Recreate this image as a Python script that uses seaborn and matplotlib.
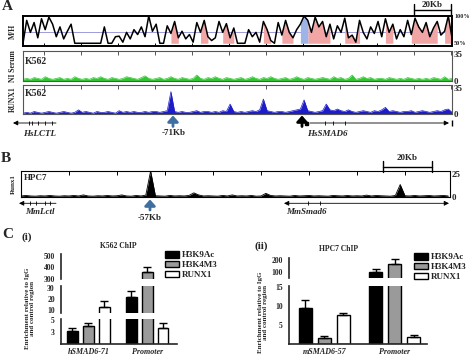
import numpy as np
import pandas as pd
import matplotlib
matplotlib.use("Agg")
import matplotlib.pyplot as plt
from matplotlib.patches import Rectangle
import seaborn as sns

W, H = 474, 356

# ---------------- data ----------------
step_kb = 2  # spacing of track values, kb

# A: mouse/human VISTA identity (%)
mh_ident = [50, 92, 70, 88, 60, 95, 75, 98, 85, 62,
            80, 58, 72, 85, 50, 50, 50, 50, 50, 50,
            50, 50, 80, 50, 50, 62, 63, 52, 70, 58,
            75, 66, 80, 62, 100, 72, 85, 50, 50, 82,
            68, 90, 60, 72, 58, 66, 52, 88, 70, 92,
            62, 55, 60, 90, 70, 86, 60, 78, 50, 50,
            50, 75, 62, 70, 52, 90, 75, 55, 50, 88,
            65, 92, 70, 60, 75, 85, 100, 92, 70, 98,
            80, 90, 62, 85, 58, 82, 70, 96, 60, 65,
            52, 92, 70, 58, 80, 68, 90, 62, 95, 70,
            85, 58, 75, 62, 92, 66, 96, 80, 70, 88,
            62, 78, 90, 65, 72, 100, 60]
pink_cns = [(80, 84), (96, 100), (108, 114), (130, 134), (140, 146),
            (154, 166), (174, 182), (196, 200), (210, 224), (228, 232)]
blue_exon = [(150, 154)]

# A: K562 ChIP-seq tracks (0-35)
ni_serum = [2, 3, 2, 4, 3, 2, 5, 3, 2, 3,
            4, 2, 3, 2, 5, 3, 2, 3, 2, 4,
            3, 5, 3, 2, 4, 3, 2, 3, 5, 4,
            3, 2, 4, 6, 3, 2, 3, 4, 2, 3,
            5, 3, 2, 4, 3, 2, 3, 7, 3, 2,
            4, 3, 5, 3, 2, 4, 3, 2, 3, 4,
            2, 3, 5, 3, 2, 4, 3, 5, 3, 2,
            3, 4, 2, 3, 5, 3, 2, 4, 3, 2,
            3, 4, 3, 2, 5, 3, 4, 2, 3, 7,
            2, 3, 5, 3, 4, 2, 3, 3, 2, 4,
            3, 2, 3, 2, 4, 3, 2, 3, 2, 3,
            2, 4, 3, 2, 5, 2, 3]
runx1_k562 = [1, 2, 1, 3, 2, 1, 2, 3, 2, 1,
              2, 3, 2, 1, 2, 5, 2, 3, 2, 1,
              3, 2, 2, 3, 2, 1, 4, 2, 3, 2,
              3, 2, 2, 3, 2, 3, 3, 2, 3, 4,
              27, 3, 2, 3, 2, 2, 3, 4, 2, 3,
              3, 2, 3, 2, 4, 3, 12, 3, 2, 3,
              2, 3, 4, 3, 5, 18, 4, 3, 2, 3,
              3, 2, 3, 4, 5, 6, 17, 4, 3, 2,
              3, 4, 12, 5, 4, 6, 4, 3, 5, 3,
              2, 3, 4, 3, 2, 4, 3, 5, 8, 3,
              4, 3, 2, 3, 3, 4, 2, 3, 4, 3,
              2, 3, 4, 3, 5, 6, 2]

# B: HPC7 Runx1 track (0-25)
runx1_hpc7 = [1, 1.5, 1, 0.8, 1.2, 1, 1.5, 1, 0.8, 1.2,
              1, 1.5, 1, 2, 1, 0.8, 1.2, 1, 1.5, 1,
              1.2, 2, 1, 0.8, 1.5, 1, 1.8, 25, 1.2, 1,
              0.8, 1.5, 1, 1.2, 1, 1.5, 4, 2, 1, 1.2,
              1, 0.8, 1.5, 1, 2, 1, 1.2, 1, 1.5, 0.8,
              1, 3.5, 1.5, 1, 1.2, 1, 0.8, 1.5, 1, 1.2,
              1.5, 1, 1.2, 1, 0.8, 1.5, 1.2, 1, 1.5, 1,
              1.2, 1, 1.8, 1, 1.5, 1.2, 1, 0.8, 1.5, 12,
              1.2, 1, 1.5, 1, 1.2, 1.5, 1, 1.2, 1.5, 1]

# C: ChIP-qPCR enrichment
marks = ["H3K9Ac", "H3K4M3", "RUNX1"]
regions_k562 = ["hSMAD6-71", "Promoter"]
regions_hpc7 = ["mSMAD6-57", "Promoter"]
k562_mean = {"H3K9Ac": [3.2, 22.0], "H3K4M3": [4.1, 355.0], "RUNX1": [12.5, 3.7]}
k562_err = {"H3K9Ac": [0.5, 5.5], "H3K4M3": [0.5, 45.0], "RUNX1": [6.0, 0.9]}
hpc7_mean = {"H3K9Ac": [9.3, 95.0], "H3K4M3": [1.6, 163.0], "RUNX1": [7.5, 1.85]}
hpc7_err = {"H3K9Ac": [2.3, 25.0], "H3K4M3": [0.5, 43.0], "RUNX1": [0.5, 0.55]}
bar_colors = ["black", "#9a9a9a", "white"]

# ---------------- style ----------------
sns.set_style("white")
plt.rcParams["font.family"] = ["Liberation Serif", "DejaVu Serif"]
plt.rcParams["font.weight"] = "bold"

fig = plt.figure(figsize=(W / 100, H / 100), dpi=100)


def px_axes(x0, y0, x1, y1):
    return fig.add_axes([x0 / W, 1 - y1 / H, (x1 - x0) / W, (y1 - y0) / H])


def track(box, vals, color, ylim, yticks, ylabels, xmax, xticks, lw=0.5, edge="#555555", fill=True):
    ax = px_axes(*box)
    pos = np.arange(len(vals)) * step_kb
    sns.lineplot(x=pos, y=vals, ax=ax, color=color, lw=lw)
    if fill:
        ax.fill_between(pos, ylim[0], vals, color=color, lw=0)
    ax.set_xlim(0, xmax)
    ax.set_ylim(*ylim)
    ax.set_xlabel("")
    ax.set_ylabel("")
    for s in ax.spines.values():
        s.set_color(edge)
        s.set_linewidth(0.8)
    ax.set_xticks(xticks)
    ax.tick_params(axis="x", top=True, bottom=False, direction="in", length=3,
                   width=0.7, color=edge, labelbottom=False)
    ax.yaxis.tick_right()
    ax.set_yticks(yticks)
    ax.set_yticklabels(ylabels)
    ax.tick_params(axis="y", length=0, pad=1.5, labelsize=6.5)
    return ax, pos


a_ticks = np.arange(11.35, 233, 20)

# ---- A: conservation track ----
ax_mh, mh_pos = track((23, 16, 452, 46), mh_ident, "black", (45, 100), [50, 100],
                      ["50%", "100%"], 232, a_ticks, lw=1.1, edge="black", fill=False)
for lo, hi in pink_cns:
    m = (mh_pos >= lo) & (mh_pos <= hi)
    ax_mh.fill_between(mh_pos, 50, mh_ident, where=m, color="#f2a5a5", lw=0)
for lo, hi in blue_exon:
    m = (mh_pos >= lo) & (mh_pos <= hi)
    ax_mh.fill_between(mh_pos, 50, mh_ident, where=m, color="#9fb4e6", lw=0)
ax_mh.axhline(70, color="#8c8cd8", lw=0.6, zorder=0.5)
for s in ax_mh.spines.values():
    s.set_linewidth(1.4)
ax_mh.tick_params(axis="x", top=False, bottom=True, direction="in", length=2)
ax_mh.tick_params(axis="y", labelsize=4.5)

ax_ni, _ = track((23, 51, 452, 81), ni_serum, "#33c633", (0, 35), [0, 35], ["0", "35"],
                 232, a_ticks)
ax_rx, _ = track((23, 85, 452, 114), runx1_k562, "#1c1cc8", (0, 35), [0, 35], ["0", "35"],
                 232, a_ticks)

# ---- B ----
ax_b, _ = track((21, 171, 450, 197), runx1_hpc7, "black", (0, 25), [0, 25], ["0", "25"],
                178.75, np.arange(20, 170, 20), lw=0.6, edge="black")

# top value labels sit just inside the box, as in the original
for ax in (ax_ni, ax_rx, ax_b):
    ax.get_yticklabels()[1].set_va("top")

# ---- C: broken-axis bar charts ----
def chip_panel(regions, mean, err, x0, x1, segs, xlim, leg_anchor):
    df = pd.DataFrame([(r, m, v) for m in marks for r, v in zip(regions, mean[m])],
                      columns=["region", "mark", "value"])
    for k, (y0, y1, lim, ticks) in enumerate(segs):
        ax = px_axes(x0, y0, x1, y1)
        sns.barplot(data=df, x="region", y="value", hue="mark", hue_order=marks,
                    palette=bar_colors, edgecolor="black", linewidth=1.0,
                    width=0.81, gap=0.31, errorbar=None, legend=False, ax=ax)
        bar_conts = list(ax.containers)
        for hi, cont in enumerate(bar_conts):
            for bi, bar in enumerate(cont.patches):
                xc = bar.get_x() + bar.get_width() / 2
                ax.errorbar(xc, bar.get_height(), yerr=[[0], [err[marks[hi]][bi]]],
                            fmt="none", ecolor="black", elinewidth=1.0, capsize=2.6,
                            capthick=1.0, zorder=3)
        ax.set_xlim(*xlim)
        ax.set_ylim(*lim)
        ax.set_yticks(ticks)
        ax.set_xlabel("")
        ax.set_ylabel("")
        sns.despine(ax=ax, bottom=(k < len(segs) - 1))
        ax.spines["left"].set_linewidth(1.2)
        ax.spines["bottom"].set_linewidth(1.2)
        ax.tick_params(axis="y", direction="out", length=3, width=1.0, pad=1.5, labelsize=5.5)
        if k < len(segs) - 1:
            ax.tick_params(axis="x", bottom=False, labelbottom=False)
        else:
            ax.tick_params(axis="x", direction="out", length=2.5, width=1.0, pad=0.5,
                           labelsize=5.8)
            for t in ax.get_xticklabels():
                t.set_style("italic")
    handles = [c.patches[0] for c in bar_conts]
    fig.legend(handles, marks, loc="upper left", bbox_to_anchor=leg_anchor, frameon=False,
               fontsize=6.5, handlelength=1.5, handleheight=0.75, labelspacing=0.15,
               handletextpad=0.4, borderpad=0, borderaxespad=0)


chip_panel(regions_k562, k562_mean, k562_err, 61, 177,
           [(254, 279.3, (294.7, 517.6), [300, 400, 500]),
            (286, 312.7, (7.5, 32.1), [10, 20, 30]),
            (319.3, 344, (1.0, 5.16), [3, 5])],
           (-0.465, 1.508), (165 / W, 1 - 251 / H))

chip_panel(regions_hpc7, hpc7_mean, hpc7_err, 289, 427,
           [(257.5, 278.3, (43.6, 221), [100, 200]),
            (285.5, 344, (0, 15.3), [5, 10, 15])],
           (-0.50, 1.46), (414 / W, 1 - 253 / H))

# ---------------- overlay: labels, scale bars, gene models ----------------
ov = fig.add_axes([0, 0, 1, 1], zorder=5)
ov.set_xlim(0, W)
ov.set_ylim(H, 0)
ov.axis("off")

txt = dict(ha="center", va="center", fontweight="bold")
ov.text(2, 7, "A", fontsize=11, ha="left", va="center", fontweight="bold")
ov.text(1, 158, "B", fontsize=11, ha="left", va="center", fontweight="bold")
ov.text(2, 235, "C", fontsize=11, ha="left", va="center", fontweight="bold")

# scale bars
for xa, xb, yb, lab_y in [(414, 451, 10, 5), (383, 432, 166.5, 158.5)]:
    ov.plot([xa, xb], [yb, yb], color="black", lw=1.0)
    ov.plot([xa, xa], [yb - 6, yb + 5], color="black", lw=1.0)
    ov.plot([xb, xb], [yb - 6, yb + 5], color="black", lw=1.0)
    ov.text((xa + xb) / 2, lab_y, "20Kb", fontsize=6.5, **txt)

# track labels
ov.text(13, 31, "M/H", rotation=90, fontsize=5.5, **txt)
ov.text(13, 66, "NI Serum", rotation=90, fontsize=5.5, **txt)
ov.text(13, 99.5, "RUNX1", rotation=90, fontsize=5.5, **txt)
ov.text(13, 184, "Runx1", rotation=90, fontsize=5, **txt)
ov.text(25, 62, "K562", fontsize=7, ha="left", va="center", fontweight="bold")
ov.text(25, 93, "K562", fontsize=7, ha="left", va="center", fontweight="bold")
ov.text(24, 177.5, "HPC7", fontsize=6.5, ha="left", va="center", fontweight="bold")


def up_arrow(x, y_top, y_bot, color):
    ov.annotate("", xy=(x, y_top), xytext=(x, y_bot),
                arrowprops=dict(arrowstyle="-|>,head_width=0.45,head_length=0.5",
                                color=color, lw=2.0, mutation_scale=7,
                                shrinkA=0, shrinkB=0))


def gene_line(xa, xb, y, style, exons):
    ov.annotate("", xy=(xb, y), xytext=(xa, y),
                arrowprops=dict(arrowstyle=style, color="black", lw=0.6,
                                mutation_scale=7, shrinkA=0, shrinkB=0))
    ov.vlines(exons, y - 2, y + 2, color="black", lw=0.6)


# A gene models
gene_line(56, 13, 123, "-|>", [29, 32, 38, 45, 52])
ov.text(40, 134, "HsLCTL", fontsize=6.5, style="italic", **txt)
up_arrow(173, 115.5, 126.5, "#3f6f9f")
ov.text(174, 133, "-71Kb", fontsize=6.5, **txt)
up_arrow(302, 115.5, 126.5, "black")
ov.add_patch(Rectangle((305.5, 121.5), 3, 3, color="black"))
gene_line(310, 449, 123, "-|>", [325, 333, 345])
ov.vlines([452], 120, 126, color="black", lw=1.0)
ov.text(327, 134, "HsSMAD6", fontsize=6.5, style="italic", **txt)

# B gene models
gene_line(56, 19, 203.3, "-|>", [30, 36, 45, 50])
ov.text(40, 212.5, "MmLctl", fontsize=6.5, style="italic", **txt)
up_arrow(150, 199.5, 210, "#3f6f9f")
ov.text(150, 218.5, "-57Kb", fontsize=6.5, **txt)
gene_line(284, 449, 203.3, "<|-|>", [308, 320])
ov.text(306, 212.5, "MmSmad6", fontsize=6.5, style="italic", **txt)

# C titles
ov.text(27, 237.5, "(i)", fontsize=8, **txt)
ov.text(118, 246, "K562 ChIP", fontsize=5.5, **txt)
ov.text(261, 246.5, "(ii)", fontsize=8, **txt)
ov.text(339, 249, "HPC7 ChIP", fontsize=5.5, **txt)
ylab = "Enrichment relative to IgG\nand control region"
ov.text(30, 308, ylab, rotation=90, fontsize=5, multialignment="center", **txt)
ov.text(263, 312, ylab, rotation=90, fontsize=5, multialignment="center", **txt)

fig.savefig("out.png", dpi=100)
